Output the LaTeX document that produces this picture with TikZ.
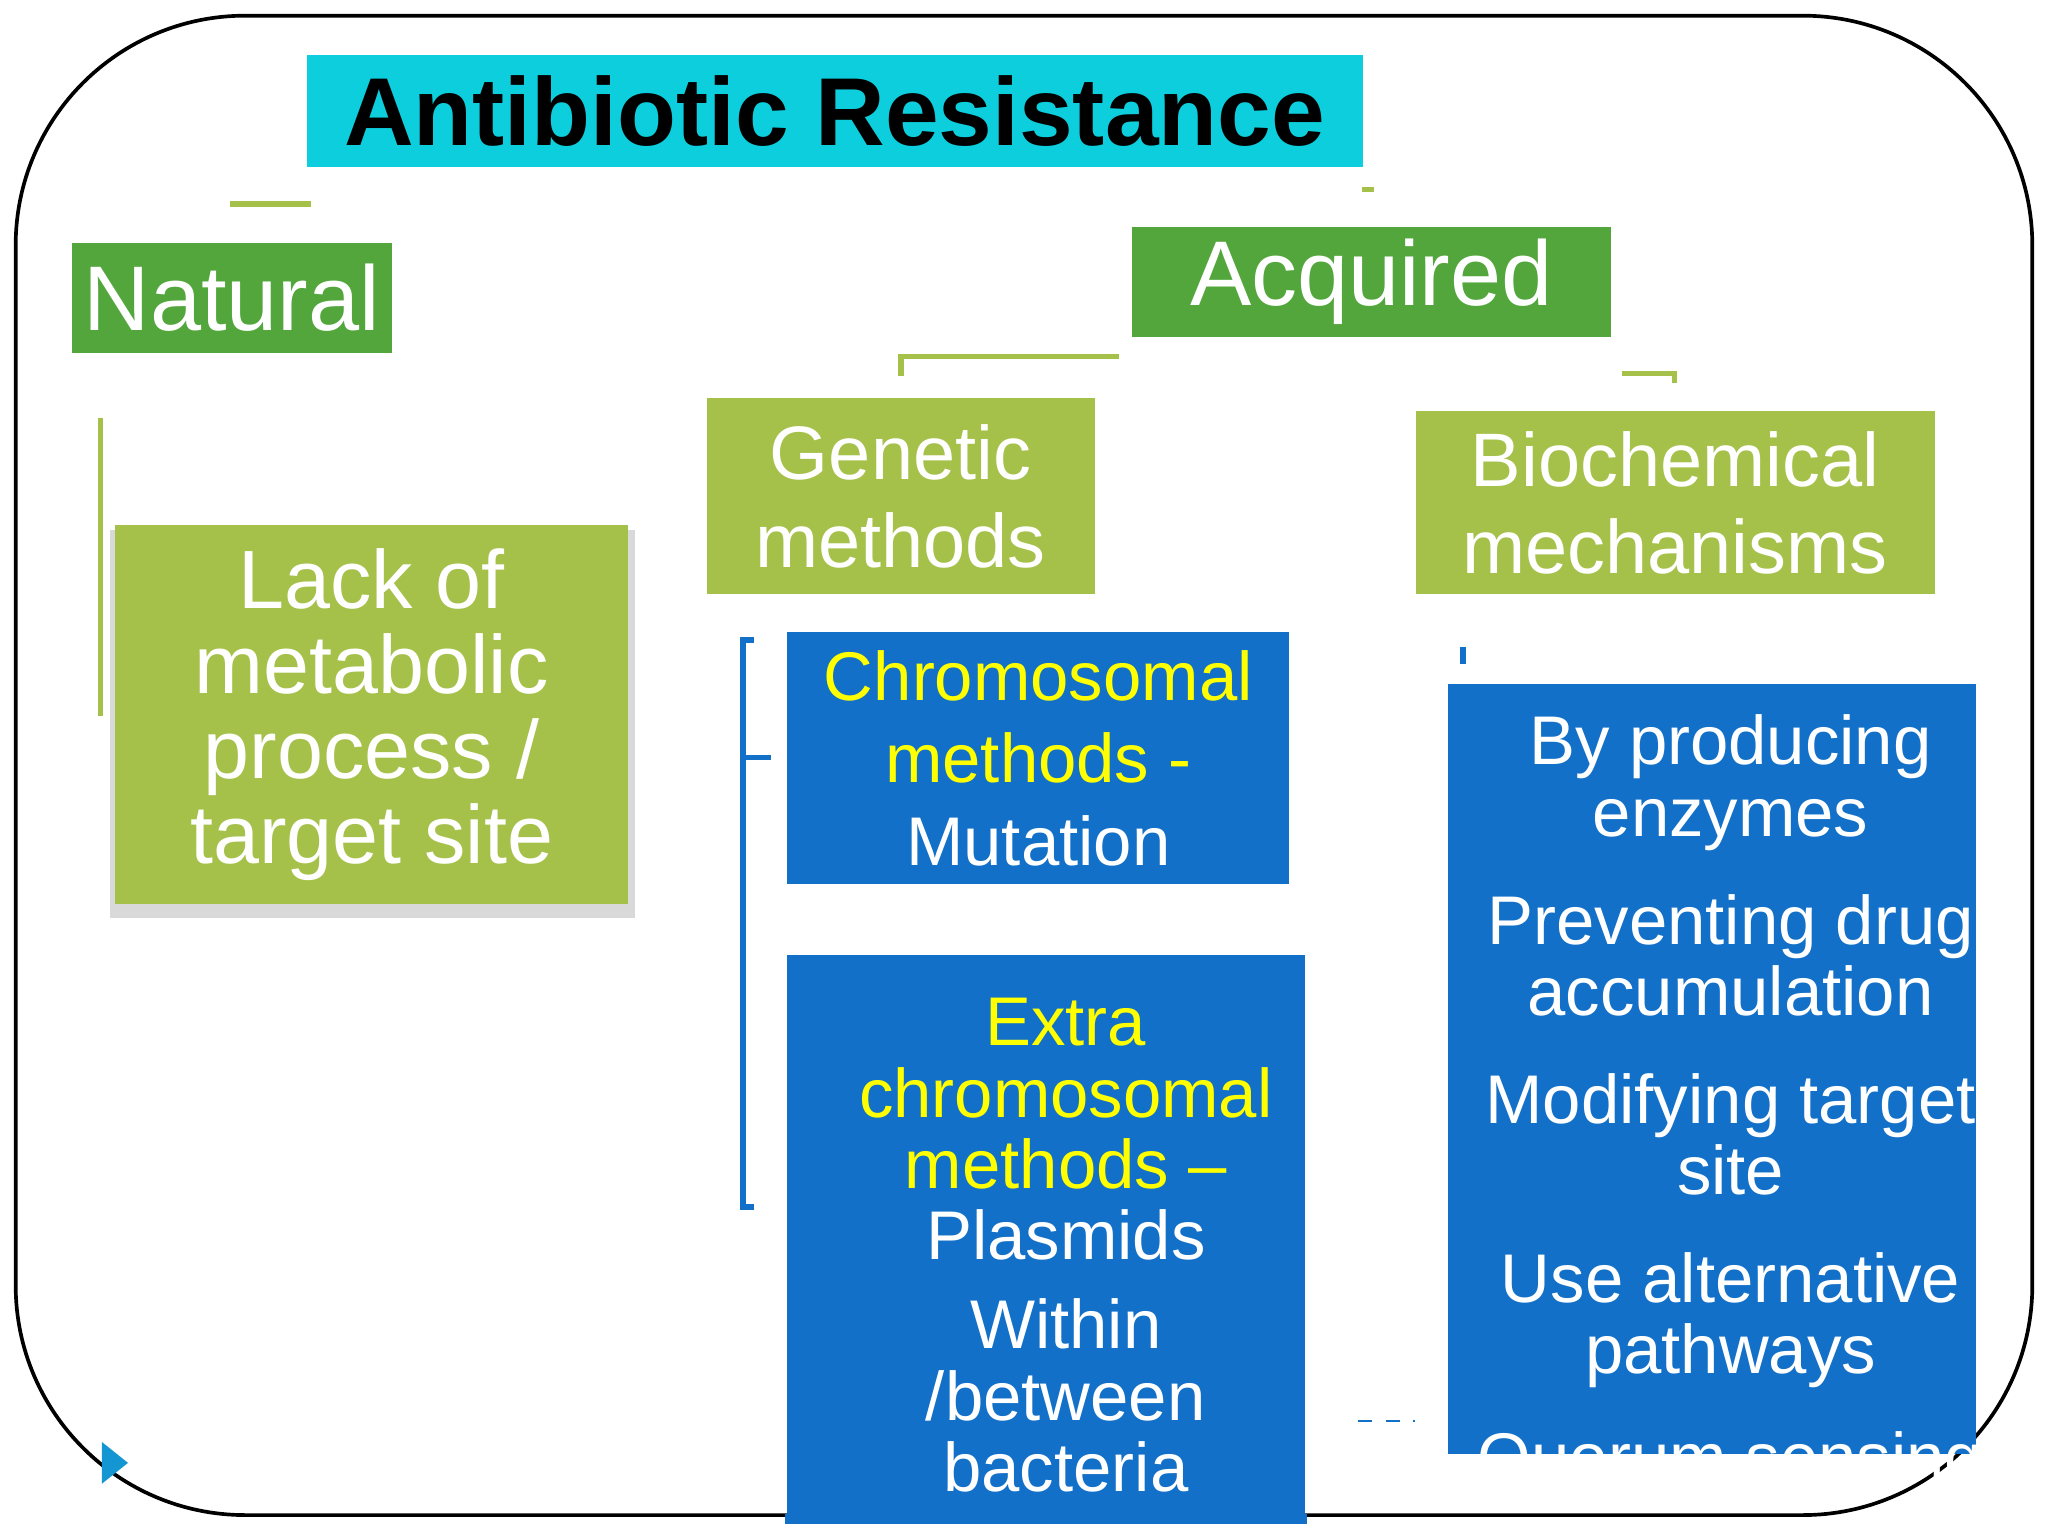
\documentclass[tikz,border=0pt]{standalone}
\usepackage{fontspec}
\setmainfont{Liberation Sans}
\usetikzlibrary{positioning}
\definecolor{titlecyan}{RGB}{12,206,220}
\definecolor{darkgreen}{RGB}{82,166,60}
\definecolor{lightgreen}{RGB}{166,193,74}
\definecolor{boxblue}{RGB}{18,112,200}
\definecolor{playblue}{RGB}{20,150,210}
\definecolor{txtyellow}{RGB}{255,255,0}
\tikzset{
  gbox/.style={fill=darkgreen, text=white, inner sep=0pt, font=\fontsize{20}{24}\selectfont},
  lbox/.style={fill=lightgreen, text=white, inner sep=0pt, align=center},
  bbox/.style={fill=boxblue, text=white, inner sep=0pt, align=center, font=\fontsize{15}{18}\selectfont},
  link/.style={lightgreen, line width=1.2pt},
  blink/.style={boxblue, line width=1.2pt},
}
\begin{document}
\begin{tikzpicture}[x=0.01cm,y=-0.01cm]
  \useasboundingbox (0,0) rectangle (1568,1176);
  \draw[rounded corners=50, line width=0.8pt] (12,12) rectangle (1556,1160);
  % title
  \node[fill=titlecyan, minimum width=8.08cm, minimum height=0.85cm, inner sep=0pt,
    font=\bfseries\fontsize{21}{24}\selectfont] (title) at (639,85) {Antibiotic Resistance};
  \draw[link] (176,156) -- (238,156);
  \draw[link] (1043,145) -- (1052,145);
  % first level
  \node[gbox, minimum width=2.45cm, minimum height=0.84cm] (natural) at (177.5,228) {Natural};
  \node[gbox, minimum width=3.66cm, minimum height=0.84cm] (acquired) at (1050,216) {Acquired};
  \draw[link] (690,288) -- (690,273) -- (857,273);
  \draw[link] (1242,286) -- (1282,286) -- (1282,293);
  % second level
  \node[lbox, minimum width=2.97cm, minimum height=1.5cm, font=\fontsize{16.5}{19}\selectfont]
    (genetic) at (689.5,380) {Genetic\\methods};
  \node[lbox, minimum width=3.97cm, minimum height=1.4cm, font=\fontsize{16.5}{19}\selectfont]
    (biochem) at (1282.5,385) {Biochemical\\mechanisms};
  \draw[link] (77,320) -- (77,548);
  \fill[black!15] (84,406) rectangle (486,703);
  \node[lbox, minimum width=3.93cm, minimum height=2.9cm, font=\fontsize{18}{18.5}\selectfont]
    (lack) at (284.5,547) {Lack of\\metabolic\\process /\\target site};
  % genetic branch
  \draw[blink] (577,490) -- (569,490) -- (569,924) -- (577,924);
  \draw[blink] (569,580) -- (590,580);
  \node[bbox, minimum width=3.84cm, minimum height=1.93cm] (chromo) at (795,580.5)
    {\textcolor{txtyellow}{Chromosomal}\\\textcolor{txtyellow}{methods -}\\Mutation};
  \node[bbox, minimum width=3.96cm, minimum height=4.29cm] (extra) at (801,945.5) {};
  \node[font=\fontsize{15}{15.5}\selectfont, text=white, align=center, anchor=north] (extratxt) at (816,752)
    {\textcolor{txtyellow}{Extra}\\\textcolor{txtyellow}{chromosomal}\\\textcolor{txtyellow}{methods –}\\Plasmids\\[4pt]
     Within\\/between\\bacteria};
  \draw[boxblue, line width=2pt] (601,1163) -- (1001,1163);
  % biochemical branch
  \draw[blink] (1120,495) -- (1120,508);
  \draw[blink, dashed, line width=0.6pt] (1040,1088) -- (1083,1088);
  \node[bbox, minimum width=4.04cm, minimum height=5.89cm] (mech) at (1311,818.5) {};
  \node[font=\fontsize{15}{15.5}\selectfont, text=white, align=center, anchor=north] (mechtxt) at (1325,535)
    {By producing\\enzymes\\[8pt] Preventing drug\\accumulation\\[8pt] Modifying target\\site\\[8pt]
     Use alternative\\pathways\\[8pt] Quorum sensing};
  \fill[playblue] (78,1104) -- (98,1120) -- (78,1136) -- cycle;
\end{tikzpicture}
\end{document}
